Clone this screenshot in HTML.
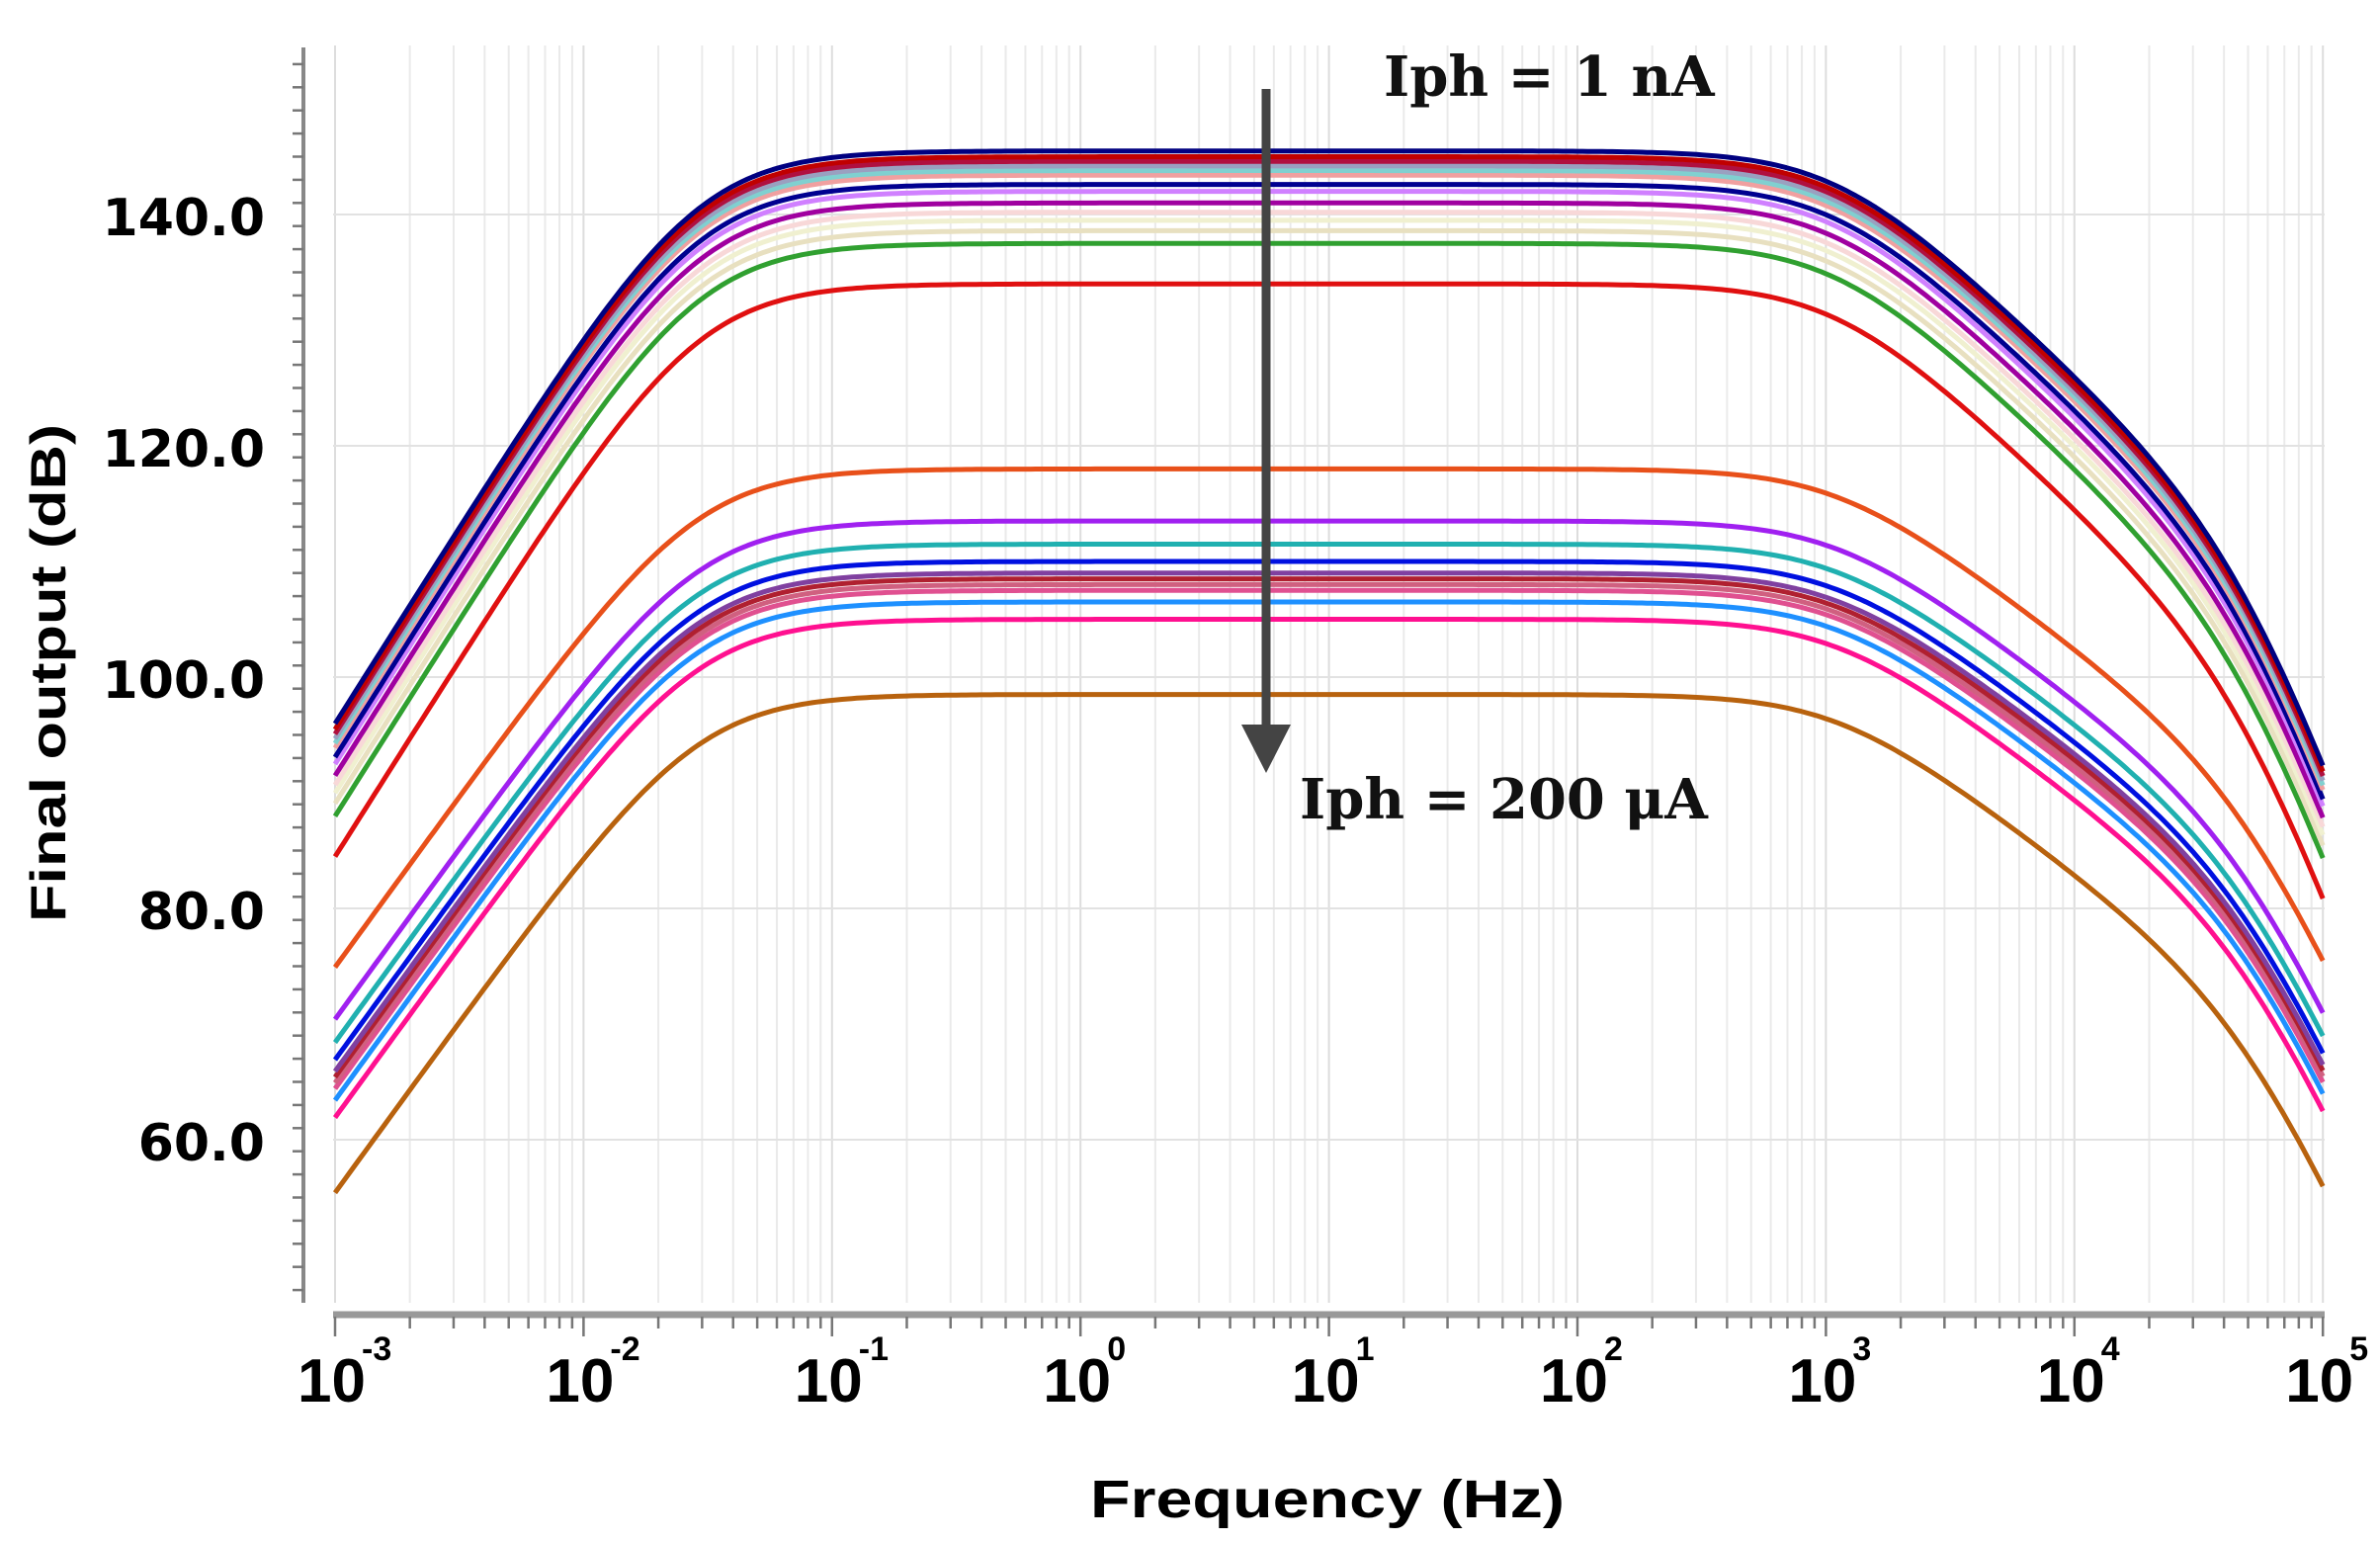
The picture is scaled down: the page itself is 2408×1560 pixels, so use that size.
<!DOCTYPE html>
<html><head><meta charset="utf-8"><style>
html,body{margin:0;padding:0;background:#fff;width:2408px;height:1560px;overflow:hidden}
</style></head><body>
<svg id="s" width="2408" height="1560" viewBox="0 0 2408 1560" xmlns="http://www.w3.org/2000/svg">
<g id="grid"></g>
<g id="curves" fill="none" stroke-width="5" stroke-linejoin="round"></g>
<line x1="307" y1="48" x2="307" y2="1318" stroke="#888" stroke-width="4"/>
<g id="yt"></g>
<line x1="337" y1="1330" x2="2352" y2="1330" stroke="#999" stroke-width="7"/>
<g id="xt"></g>
<g font-family="DejaVu Sans" font-weight="bold" font-size="52" text-anchor="end" fill="#000">
<text x="268" y="238">140.0</text>
<text x="268" y="472">120.0</text>
<text x="268" y="706">100.0</text>
<text x="268" y="940">80.0</text>
<text x="268" y="1174">60.0</text>
</g>
<g id="xl" font-family="Liberation Sans" font-weight="bold" fill="#000"></g>
<text x="1343" y="1535" font-family="Liberation Sans" font-weight="bold" font-size="54" text-anchor="middle" textLength="480" lengthAdjust="spacingAndGlyphs">Frequency (Hz)</text>
<text transform="translate(66,681) rotate(-90)" font-family="Liberation Sans" font-weight="bold" font-size="50" text-anchor="middle" textLength="504" lengthAdjust="spacingAndGlyphs">Final output (dB)</text>
<line x1="1281" y1="90" x2="1281" y2="740" stroke="#444" stroke-width="9"/>
<polygon points="1256,733 1306,733 1281,782" fill="#444"/>
<text x="1400" y="97" font-family="DejaVu Serif" font-weight="bold" font-size="56" fill="#111">Iph = 1 nA</text>
<text x="1315" y="828" font-family="DejaVu Serif" font-weight="bold" font-size="56" fill="#111">Iph = 200 μA</text>
</svg>
<script>
var NS="http://www.w3.org/2000/svg";
function el(p,t,a){var e=document.createElementNS(NS,t);for(var k in a)e.setAttribute(k,a[k]);p.appendChild(e);return e;}
var X0=339,DEC=251.4,L=Math.log10;
function fx(f){return X0+(L(f)+3)*DEC;}
function fy(d){return 217-(d-140)*11.7;}
var g=document.getElementById('grid');
for(var e=-3;e<5;e++)for(var m=1;m<10;m++){var x=fx(m*Math.pow(10,e));el(g,'line',{x1:x,y1:46,x2:x,y2:1318,stroke:m==1?'#ddd':'#eaeaea','stroke-width':2});}
el(g,'line',{x1:fx(1e5),y1:46,x2:fx(1e5),y2:1318,stroke:'#ddd','stroke-width':2});
for(var d=60;d<=140;d+=20)el(g,'line',{x1:337,y1:fy(d),x2:2352,y2:fy(d),stroke:'#e2e2e2','stroke-width':2});
var yt=document.getElementById('yt');
for(var d=45;d<=155;d+=2){var y=fy(d);if(y<48||y>1318)continue;var big=(d%20==0);el(yt,'line',{x1:big?285:296,y1:y,x2:307,y2:y,stroke:'#777','stroke-width':2.5});}
var xt=document.getElementById('xt');
for(var e=-3;e<5;e++)for(var m=1;m<10;m++){var x=fx(m*Math.pow(10,e));el(xt,'line',{x1:x,y1:1332,x2:x,y2:m==1?1352:1344,stroke:'#777','stroke-width':2.5});}
el(xt,'line',{x1:fx(1e5),y1:1332,x2:fx(1e5),y2:1352,stroke:'#777','stroke-width':2.5});
var xl=document.getElementById('xl');
for(var e=-3;e<=5;e++){var x=fx(Math.pow(10,e));var t=el(xl,'text',{x:x-38,y:1418,'font-size':62});t.textContent='10';
var s=el(xl,'text',{x:x+27,y:1376,'font-size':34});s.textContent=(e<0?'-':'')+Math.abs(e);}
var C=[[145.5,'#000080'],[145,'#c00000'],[144.6,'#b01040'],[144.2,'#9aa0c0'],[143.8,'#80d0d0'],[143.4,'#f0a0a0'],[142.6,'#000090'],[142.0,'#d080ff'],[141.0,'#a000a0'],[140.2,'#f8d8d8'],[139.5,'#f0f0d0'],[138.6,'#e8e0c0'],[137.5,'#30a030'],[134,'#e01010'],
[118,'#e8501a'],[113.5,'#a020f0'],[111.5,'#20b0b0'],[110,'#0010e0'],[109,'#8040a0'],[108.5,'#b02030'],[108,'#d06080'],[107.5,'#e05090'],[106.5,'#1e90ff'],[105,'#ff1090'],[98.5,'#b8620e']];
var cg=document.getElementById('curves');
for(var i=C.length-1;i>=0;i--){var G=C[i][0],low=G<125;var p='';
for(var k=0;k<=400;k++){var lf=-3+8*k/400,f=Math.pow(10,lf);
var dl=17*L(1+Math.pow(0.0286/f,2));
var dh=10*L(1+Math.pow(f/1100,2))+20*L(1+Math.pow(f/50000,2));
if(low){dl*=0.87;dh*=0.8;}
var v=G-dl-dh;p+=(k?'L':'M')+fx(f).toFixed(1)+','+fy(v).toFixed(1);}
el(cg,'path',{d:p,stroke:C[i][1]});}
</script>
</body></html>
